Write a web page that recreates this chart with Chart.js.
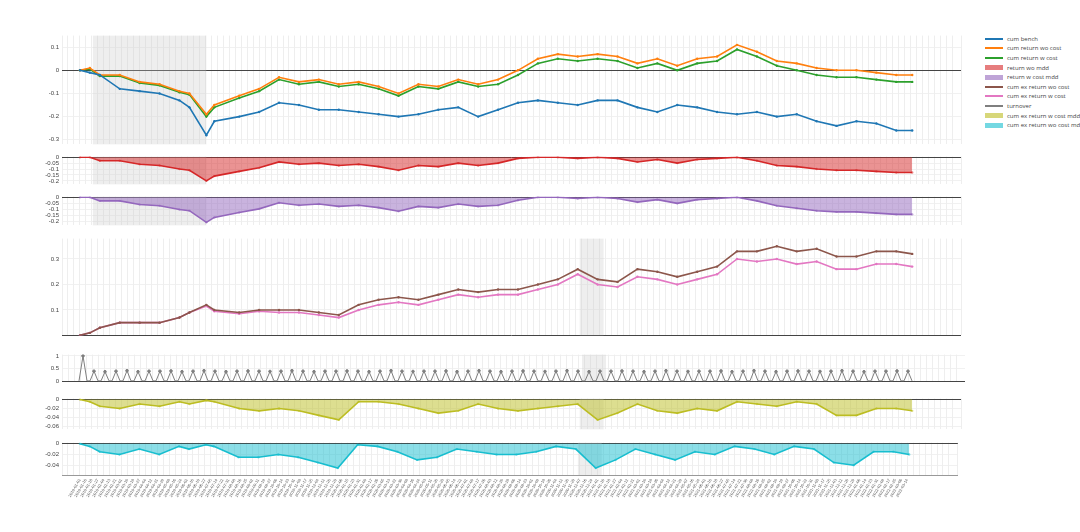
<!DOCTYPE html>
<html><head><meta charset="utf-8">
<script src="https://cdn.jsdelivr.net/npm/chart.js@4"></script>
<style>
body{margin:0;width:1080px;height:532px;background:#fff;font-family:"Open Sans",sans-serif;position:relative;overflow:hidden}
.p{position:absolute;left:22px;width:943px}
#legend{position:absolute;left:985px;top:34px;font-size:6px;color:#444;white-space:nowrap}
#legend div{height:9.6px;display:flex;align-items:center}
#legend span{display:inline-block;width:18px;height:2px;margin-right:4px}
#legend span.f{height:5px;opacity:.6}
</style></head><body>
<div id="legend"></div>
<div class="p" style="top:29px;height:122px"><canvas id="c1"></canvas></div>
<div class="p" style="top:150px;height:41px"><canvas id="c2"></canvas></div>
<div class="p" style="top:190px;height:42px"><canvas id="c3"></canvas></div>
<div class="p" style="top:232px;height:110px"><canvas id="c4"></canvas></div>
<div class="p" style="top:348px;height:40px"><canvas id="c5"></canvas></div>
<div class="p" style="top:392px;height:44px"><canvas id="c6"></canvas></div>
<div class="p" style="top:436px;height:96px"><canvas id="c7"></canvas></div>
<script>
// ============================
// DATA (day index -> value)
// ============================
const days = [0,10,20,40,60,80,100,110,127,135,160,180,200,220,240,260,280,300,320,340,360,380,400,420,440,460,480,500,520,540,560,580,600,620,640,660,680,700,720,740,760,780,800,820,836];
const cumBench = [0,-0.01,-0.02,-0.08,-0.09,-0.1,-0.13,-0.16,-0.28,-0.22,-0.2,-0.18,-0.14,-0.15,-0.17,-0.17,-0.18,-0.19,-0.2,-0.19,-0.17,-0.16,-0.2,-0.17,-0.14,-0.13,-0.14,-0.15,-0.13,-0.13,-0.16,-0.18,-0.15,-0.16,-0.18,-0.19,-0.18,-0.2,-0.19,-0.22,-0.24,-0.22,-0.23,-0.26,-0.26];
const cumWoCost = [0,0.01,-0.02,-0.02,-0.05,-0.06,-0.09,-0.1,-0.19,-0.15,-0.11,-0.08,-0.03,-0.05,-0.04,-0.06,-0.05,-0.07,-0.1,-0.06,-0.07,-0.04,-0.06,-0.04,0.0,0.05,0.07,0.06,0.07,0.06,0.03,0.05,0.02,0.05,0.06,0.11,0.08,0.04,0.03,0.01,0.0,0.0,-0.01,-0.02,-0.02];
const cumWCost = [0,0.005,-0.025,-0.025,-0.055,-0.065,-0.095,-0.105,-0.2,-0.16,-0.12,-0.09,-0.04,-0.06,-0.05,-0.07,-0.06,-0.08,-0.11,-0.07,-0.08,-0.05,-0.07,-0.06,-0.02,0.03,0.05,0.04,0.05,0.04,0.01,0.03,0.0,0.03,0.04,0.09,0.06,0.02,0.0,-0.02,-0.03,-0.03,-0.04,-0.05,-0.05];
const cumExWoCost = [0,0.01,0.03,0.05,0.05,0.05,0.07,0.09,0.12,0.1,0.09,0.1,0.1,0.1,0.09,0.08,0.12,0.14,0.15,0.14,0.16,0.18,0.17,0.18,0.18,0.2,0.22,0.26,0.22,0.21,0.26,0.25,0.23,0.25,0.27,0.33,0.33,0.35,0.33,0.34,0.31,0.31,0.33,0.33,0.32];
const cumExWCost = [0,0.01,0.03,0.05,0.05,0.05,0.07,0.09,0.115,0.095,0.085,0.095,0.09,0.09,0.08,0.07,0.1,0.12,0.13,0.12,0.14,0.16,0.15,0.16,0.16,0.18,0.2,0.24,0.2,0.19,0.23,0.22,0.2,0.22,0.24,0.3,0.29,0.3,0.28,0.29,0.26,0.26,0.28,0.28,0.27];
const exWCostMdd = [0,-0.005,-0.015,-0.02,-0.01,-0.015,-0.005,-0.01,-0.002,-0.005,-0.02,-0.025,-0.02,-0.025,-0.035,-0.045,-0.005,-0.005,-0.01,-0.02,-0.03,-0.025,-0.01,-0.02,-0.025,-0.02,-0.015,-0.01,-0.045,-0.03,-0.01,-0.025,-0.03,-0.02,-0.025,-0.005,-0.01,-0.015,-0.005,-0.01,-0.035,-0.035,-0.02,-0.02,-0.025];
const exWoCostMdd = [0,-0.005,-0.015,-0.02,-0.01,-0.02,-0.005,-0.01,-0.002,-0.005,-0.025,-0.025,-0.02,-0.025,-0.035,-0.045,-0.002,-0.005,-0.015,-0.03,-0.025,-0.01,-0.015,-0.02,-0.02,-0.015,-0.005,-0.01,-0.045,-0.03,-0.01,-0.02,-0.03,-0.015,-0.02,-0.005,-0.01,-0.02,-0.005,-0.01,-0.035,-0.04,-0.015,-0.015,-0.02];
const turnoverPeaks = [1,0.4,0.38,0.4,0.42,0.38,0.4,0.4,0.41,0.38,0.4,0.42,0.4,0.38,0.4,0.41,0.4,0.39,0.4,0.42,0.4,0.38,0.4,0.4,0.41,0.4,0.38,0.4,0.42,0.4,0.39,0.4,0.4,0.41,0.38,0.4,0.42,0.4,0.38,0.4,0.41,0.4,0.39,0.4,0.42,0.4,0.38,0.4,0.4,0.41,0.4,0.38,0.4,0.42,0.4,0.39,0.4,0.4,0.41,0.38,0.4,0.42,0.4,0.38,0.4,0.41,0.4,0.39,0.4,0.42,0.4,0.38,0.4,0.4,0.41,0.4];
const rebalanceStep = 11;
const startDate = new Date(2019,0,2);
const shadeTop = [13,127];
const shadeBottom = [502,526];

const C = {bench:'#1f77b4',wo:'#ff7f0e',w:'#2ca02c',red:'#d62728',purple:'#9467bd',brown:'#8c564b',pink:'#e377c2',grey:'#7f7f7f',olive:'#bcbd22',cyan:'#17becf'};

function drawdown(arr){let m=-Infinity;return arr.map(v=>{m=Math.max(m,v);return v-m;});}
const pts = (xs,ys)=>ys.map((y,i)=>({x:xs[i],y}));

const turnPts=[];
turnoverPeaks.forEach((v,k)=>{const d=3+k*rebalanceStep;turnPts.push({x:d-4,y:0.02},{x:d,y:v},{x:d+4,y:0.02});});

// ============================
// LEGEND
// ============================
const legendItems=[['cum bench',C.bench],['cum return wo cost',C.wo],['cum return w cost',C.w],['return wo mdd',C.red,1],['return w cost mdd',C.purple,1],['cum ex return wo cost',C.brown],['cum ex return w cost',C.pink],['turnover',C.grey],['cum ex return w cost mdd',C.olive,1],['cum ex return wo cost mdd',C.cyan,1]];
document.getElementById('legend').innerHTML=legendItems.map(l=>`<div><span class="${l[2]?'f':''}" style="background:${l[1]}"></span>${l[0]}</div>`).join('');

// ============================
// PANELS
// ============================
const shadePlugin={id:'shade',beforeDatasetsDraw(ch,a,o){if(!o.range)return;const x=ch.scales.x,ar=ch.chartArea,c=ch.ctx;c.save();c.fillStyle='rgba(200,200,200,0.3)';c.fillRect(x.getPixelForValue(o.range[0]),ar.top,x.getPixelForValue(o.range[1])-x.getPixelForValue(o.range[0]),ar.bottom-ar.top);c.restore();}};

function fmtDate(d){const t=new Date(startDate.getTime()+d*86400000*1.4);return t.toISOString().slice(0,10);}

function panel(id,datasets,y,shade,last){
  new Chart(document.getElementById(id),{
    type:'line',data:{datasets},
    plugins:[shadePlugin],
    options:{responsive:true,maintainAspectRatio:false,animation:false,
      layout:{padding:0},
      plugins:{legend:{display:false},tooltip:{enabled:false},shade:{range:shade}},
      elements:{line:{borderWidth:1.6,tension:0},point:{radius:1.2,borderWidth:0}},
      scales:{
        x:{type:'linear',min:-18,max:885,grid:{color:'#eeeeee',drawTicks:false},border:{display:!!last,color:'#999'},
          afterFit:s=>{if(last)s.height=57;},
          ticks:{display:!!last,stepSize:6,autoSkip:false,maxRotation:60,minRotation:60,font:{size:4},color:'#555',callback:v=>v>=0&&v<=836?fmtDate(v):''}},
        y:{min:y.min,max:y.max,grid:{color:c=>c.tick.value===0?'#444':'#eeeeee',lineWidth:c=>c.tick.value===0?1:0.8,drawTicks:false},border:{display:false},
          afterFit:s=>{s.width=40;},
          afterBuildTicks:s=>{s.ticks=y.ticks.map(v=>({value:v}));},
          ticks:{autoSkip:false,padding:3,font:{size:6},color:'#444',callback:v=>(y.hideZero&&v===0)?'':String(Math.round(v*1000)/1000)}}
      }}
  });
}

panel('c1',[
  {data:pts(days,cumBench),borderColor:C.bench,backgroundColor:C.bench},
  {data:pts(days,cumWoCost),borderColor:C.wo,backgroundColor:C.wo},
  {data:pts(days,cumWCost),borderColor:C.w,backgroundColor:C.w}
],{min:-0.32,max:0.15,ticks:[-0.3,-0.2,-0.1,0,0.1]},shadeTop);
panel('c2',[{data:pts(days,drawdown(cumWoCost)),borderColor:C.red,backgroundColor:'rgba(214,39,40,0.5)',fill:'origin'}],{min:-0.23,max:0.005,ticks:[-0.2,-0.15,-0.1,-0.05,0]},shadeTop);
panel('c3',[{data:pts(days,drawdown(cumWCost)),borderColor:C.purple,backgroundColor:'rgba(148,103,189,0.5)',fill:'origin'}],{min:-0.23,max:0.005,ticks:[-0.2,-0.15,-0.1,-0.05,0]},shadeTop);
panel('c4',[
  {data:pts(days,cumExWoCost),borderColor:C.brown,backgroundColor:C.brown},
  {data:pts(days,cumExWCost),borderColor:C.pink,backgroundColor:C.pink}
],{min:0,max:0.38,ticks:[0,0.1,0.2,0.3],hideZero:true},shadeBottom);
panel('c5',[{data:turnPts,borderColor:C.grey,backgroundColor:C.grey,borderWidth:1,pointRadius:c=>c.raw&&c.raw.y>0.1?1.3:0}],{min:0,max:1.05,ticks:[0,0.5,1]},shadeBottom);
panel('c6',[{data:pts(days,exWCostMdd),borderColor:C.olive,backgroundColor:'rgba(188,189,34,0.5)',fill:'origin'}],{min:-0.066,max:0.002,ticks:[-0.06,-0.04,-0.02,0]},shadeBottom);
panel('c7',[{data:pts(days,exWoCostMdd),borderColor:C.cyan,backgroundColor:'rgba(23,190,207,0.5)',fill:'origin'}],{min:-0.058,max:0.002,ticks:[-0.04,-0.02,0]},shadeBottom,true);
</script>
</body></html>
